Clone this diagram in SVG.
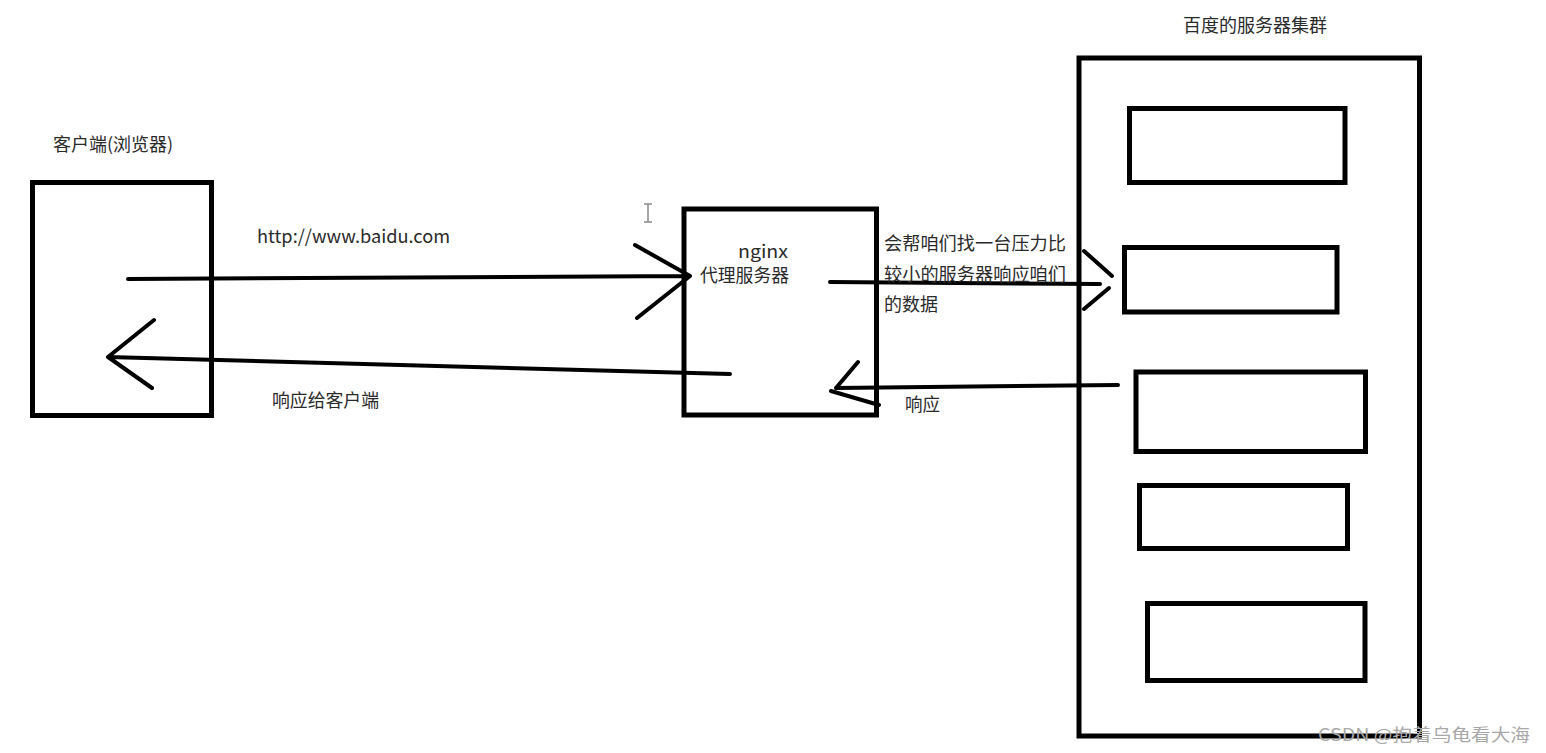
<svg xmlns="http://www.w3.org/2000/svg" width="1546" height="753" viewBox="0 0 1546 753">
<style>
.box{fill:none;stroke:#000;stroke-width:5}
.srv{fill:none;stroke:#000;stroke-width:5}
.ln{fill:none;stroke:#000;stroke-width:4;stroke-linecap:round;stroke-linejoin:round}
.t{font-family:"Noto Sans CJK SC","Microsoft YaHei","Noto Sans",sans-serif;font-size:18px;fill:#2a2a2a}
.wm{font-family:"Noto Sans CJK SC","Noto Sans",sans-serif;font-size:17px;fill:#a8a8a8}
</style>
<rect width="1546" height="753" fill="#fff"/>
<g id="client">
<rect class="box" x="32.5" y="182.5" width="179" height="233"/>
<text class="t" x="53" y="151" textLength="120" lengthAdjust="spacingAndGlyphs">客户端(浏览器)</text>
</g>
<g id="nginx">
<rect class="box" x="684" y="209" width="192.5" height="206"/>
<text class="t" x="738" y="258" textLength="50" lengthAdjust="spacingAndGlyphs">nginx</text>
<text class="t" x="700" y="282" textLength="89" lengthAdjust="spacingAndGlyphs">代理服务器</text>
</g>
<g id="cluster">
<rect class="box" x="1079" y="58" width="340.5" height="678"/>
<text class="t" x="1183" y="32" textLength="144" lengthAdjust="spacingAndGlyphs">百度的服务器集群</text>
</g>
<g id="server1"><rect class="srv" x="1129.5" y="108.5" width="215.5" height="74"/></g>
<g id="server2"><rect class="srv" x="1124.5" y="247.5" width="212.5" height="64.5"/></g>
<g id="server3"><rect class="srv" x="1136" y="372" width="229.5" height="79.5"/></g>
<g id="server4"><rect class="srv" x="1139.5" y="485.5" width="208" height="63"/></g>
<g id="server5"><rect class="srv" x="1147.5" y="603.5" width="217.5" height="77"/></g>
<g id="connectors">
<path class="ln" d="M128 279 L690 276 M635 245 L690 276 L637 318"/>
<path class="ln" d="M730 374 L108 357 M154 320 L108 357 L152 388"/>
<path class="ln" d="M830 282 L1100 284 M1084 251 L1112 276 M1084 309 L1109 288"/>
<path class="ln" d="M1118 385 L836 388 M858 362 L836 388 M831 391 L879 405"/>
</g>
<g id="labels">
<text class="t" x="257" y="243" textLength="193" lengthAdjust="spacingAndGlyphs">http://www.baidu.com</text>
<text class="t" x="272" y="407" textLength="107" lengthAdjust="spacingAndGlyphs">响应给客户端</text>
<text class="t" x="884" y="250" textLength="182" lengthAdjust="spacingAndGlyphs">会帮咱们找一台压力比</text>
<text class="t" x="884" y="281" textLength="182" lengthAdjust="spacingAndGlyphs">较小的服务器响应咱们</text>
<text class="t" x="884" y="311">的数据</text>
<text class="t" x="905" y="411" textLength="35" lengthAdjust="spacingAndGlyphs">响应</text>
</g>
<g id="cursor" stroke="#8a8a8a" stroke-width="1.5" fill="none">
<path d="M648 204 V222 M644 204 H652 M644 222 H652"/>
</g>
<text class="wm" x="1318" y="741" textLength="212" lengthAdjust="spacingAndGlyphs">CSDN @抱着乌龟看大海</text>
</svg>
